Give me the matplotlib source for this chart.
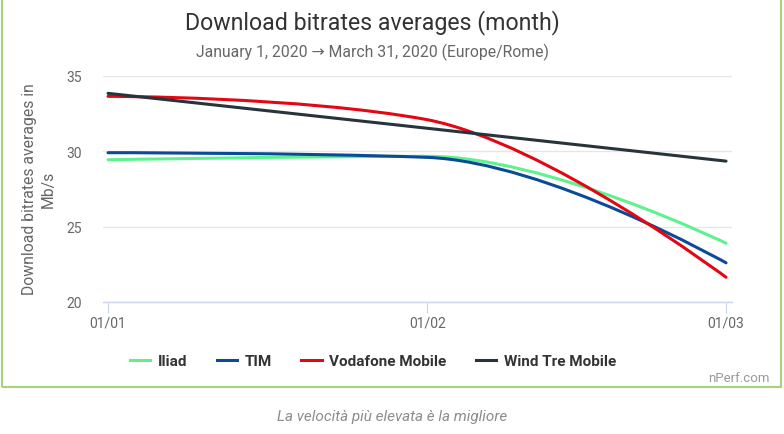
import matplotlib
matplotlib.use('Agg')
import matplotlib.pyplot as plt
import matplotlib.dates as mdates
from matplotlib.path import Path
from matplotlib.patches import PathPatch, Rectangle
from matplotlib.lines import Line2D

plt.rcParams['font.family'] = ['Roboto', 'DejaVu Sans']

dates = ['2020-01-01', '2020-02-01', '2020-03-01']
tick_labels = ['01/01', '01/02', '01/03']
operators = ['Iliad', 'TIM', 'Vodafone Mobile', 'Wind Tre Mobile']
iliad = [29.44, 29.67, 23.90]
tim = [29.91, 29.60, 22.60]
vodafone = [33.65, 32.10, 21.64]
wind_tre = [33.85, 31.53, 29.35]
colors = ['#5ef28e', '#0b4a96', '#e30613', '#28343b']


def spline_path(xs, ys, smoothing=1.5):
    # highcharts-style spline: control points from neighbours
    n = len(xs)
    left = [None] * n
    right = [None] * n
    for i in range(1, n - 1):
        d = smoothing + 1
        lx = (smoothing * xs[i] + xs[i - 1]) / d
        ly = (smoothing * ys[i] + ys[i - 1]) / d
        rx = (smoothing * xs[i] + xs[i + 1]) / d
        ry = (smoothing * ys[i] + ys[i + 1]) / d
        corr = (ry - ly) * (rx - xs[i]) / (rx - lx) + ys[i] - ry
        ly += corr
        ry += corr
        if ly > ys[i - 1] and ly > ys[i]:
            ly = max(ys[i - 1], ys[i])
            ry = 2 * ys[i] - ly
        elif ly < ys[i - 1] and ly < ys[i]:
            ly = min(ys[i - 1], ys[i])
            ry = 2 * ys[i] - ly
        if ry > ys[i + 1] and ry > ys[i]:
            ry = max(ys[i + 1], ys[i])
            ly = 2 * ys[i] - ry
        elif ry < ys[i + 1] and ry < ys[i]:
            ry = min(ys[i + 1], ys[i])
            ly = 2 * ys[i] - ry
        left[i] = (lx, ly)
        right[i] = (rx, ry)
    verts = [(xs[0], ys[0])]
    codes = [Path.MOVETO]
    for i in range(1, n):
        c1 = right[i - 1] or (xs[i - 1], ys[i - 1])
        c2 = left[i] or (xs[i], ys[i])
        verts += [c1, c2, (xs[i], ys[i])]
        codes += [Path.CURVE4] * 3
    return Path(verts, codes)


x = list(mdates.datestr2num(dates))

fig = plt.figure(figsize=(7.84, 4.35), dpi=100)
ax = fig.add_axes([103 / 784, 1 - 303 / 435, 629 / 784, 226 / 435])

series = [iliad, tim, vodafone, wind_tre]
for vals, c in zip(series, colors):
    p = spline_path(x, vals)
    ax.add_patch(PathPatch(p, fill=False, edgecolor=c, lw=2.2,
                           capstyle='round', joinstyle='round', zorder=3))

ax.set_xlim(x[0] - 0.49, x[-1] + 0.58)
ax.set_ylim(20, 35)
ax.set_xticks(x)
ax.set_xticklabels(tick_labels)
ax.set_yticks([20, 25, 30, 35])
ax.grid(axis='y', color='#e6e6e6', lw=1)
ax.set_axisbelow(True)
for s in ['top', 'right', 'left']:
    ax.spines[s].set_visible(False)
ax.spines['bottom'].set_color('#ccd6eb')
ax.spines['bottom'].set_linewidth(1)
ax.tick_params(axis='x', length=8, color='#ccd6eb', pad=2, labelsize=10, labelcolor='#666666')
ax.tick_params(axis='y', length=0, pad=15, labelsize=10, labelcolor='#666666')

fig.text(372 / 784, 1 - 23 / 435, 'Download bitrates averages (month)',
         ha='center', va='center', fontsize=16.7, color='#333333')
fig.text(372 / 784, 1 - 52 / 435, 'January 1, 2020 \u2192 March 31, 2020 (Europe/Rome)',
         ha='center', va='center', fontsize=11.3, color='#666666')
fig.text(39 / 784, 1 - 189 / 435, 'Download bitrates averages in\nMb/s',
         rotation=90, ha='center', va='center', multialignment='center',
         fontsize=11.3, color='#666666', linespacing=1.25)

handles = [Line2D([], [], color=c, lw=2.2) for c in colors]
leg = fig.legend(handles, operators, loc='center', ncol=4,
                 bbox_to_anchor=(373 / 784, 1 - 362 / 435), frameon=False,
                 handlelength=1.35, handletextpad=0.5, columnspacing=1.9,
                 prop={'size': 11, 'weight': 'bold'})
for t in leg.get_texts():
    t.set_color('#333333')

fig.text(770 / 784, 1 - 379 / 435, 'nPerf.com', ha='right', va='center',
         fontsize=9.5, color='#999999')
fig.text(392 / 784, 1 - 417 / 435, 'La velocità più elevata è la migliore',
         ha='center', va='center', fontsize=11, style='italic', color='#8c8c8c')

fig.add_artist(Rectangle((2 / 784, 1 - 388 / 435), 779 / 784, 400 / 435,
                         transform=fig.transFigure, fill=False,
                         edgecolor='#a3d673', lw=1.5))

fig.savefig('out.png', dpi=100)
